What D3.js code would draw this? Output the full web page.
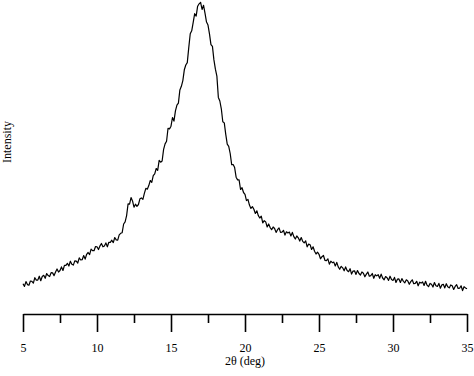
<!DOCTYPE html>
<html>
<head>
<meta charset="utf-8">
<script src="https://cdn.jsdelivr.net/npm/d3@7"></script>
<style>
  html, body { margin: 0; padding: 0; background: #fff; }
  svg text { font-family: "Liberation Serif", "DejaVu Serif", serif; fill: #000; }
</style>
</head>
<body>
<div id="chart"></div>
<script>
//##### XRD pattern #####

// 2theta start / step of the scan (deg)
var startAngle = 5,
  stepAngle = 0.1;

// intensity, one row per degree (5.0 ... 35.0)
var intensity = [
  7.1, 6.2, 7.8, 6.8, 6.6, 8.0, 7.9, 7.3, 9.1, 8.3,
  8.3, 9.6, 8.1, 9.5, 9.9, 8.9, 10.5, 9.8, 9.5, 10.8,
  10.7, 9.8, 11.0, 12.0, 11.0, 11.5, 12.7, 11.5, 13.2, 13.2,
  13.9, 13.0, 14.6, 13.6, 13.3, 14.7, 14.6, 14.0, 15.7, 15.0,
  15.1, 16.5, 15.3, 16.9, 17.5, 16.8, 18.6, 18.1, 18.1, 19.5,
  19.4, 18.5, 19.7, 20.5, 19.4, 19.7, 20.7, 19.4, 20.9, 20.9,
  21.6, 20.8, 22.5, 21.7, 21.6, 23.4, 23.9, 24.1, 27.0, 27.7,
  29.8, 33.7, 33.6, 35.8, 34.7, 32.6, 33.6, 32.9, 33.5, 35.4,
  35.7, 35.2, 37.2, 38.9, 38.6, 39.8, 41.5, 40.9, 43.1, 43.7,
  45.5, 44.9, 48.2, 47.6, 48.0, 51.9, 53.7, 54.6, 58.9, 58.7,
  59.6, 62.5, 61.3, 64.7, 66.6, 67.3, 71.7, 72.9, 74.8, 78.4,
  80.0, 80.8, 85.8, 90.4, 91.4, 94.2, 97.1, 96.3, 99.6, 100.4,
  100.9, 98.5, 99.9, 97.2, 94.3, 93.3, 90.4, 86.8, 86.2, 81.7,
  78.6, 76.3, 69.2, 68.0, 65.4, 61.1, 60.7, 56.9, 53.6, 52.9,
  50.5, 46.8, 46.8, 45.8, 42.6, 41.7, 41.7, 38.5, 39.1, 37.5,
  36.9, 34.8, 35.2, 33.3, 32.2, 32.8, 31.9, 30.5, 31.4, 29.8,
  29.0, 29.6, 27.4, 28.1, 27.7, 26.0, 27.0, 25.8, 25.1, 26.0,
  25.5, 24.2, 25.1, 25.7, 24.2, 24.3, 24.9, 23.3, 24.4, 24.0,
  24.3, 23.0, 24.2, 22.8, 22.0, 23.0, 22.4, 21.3, 22.5, 21.2,
  20.7, 21.4, 19.4, 20.3, 20.1, 18.5, 19.4, 17.9, 17.0, 17.6,
  16.9, 15.4, 16.1, 16.5, 14.9, 14.8, 15.4, 13.6, 14.6, 14.1,
  14.3, 13.0, 14.2, 12.7, 11.9, 12.9, 12.4, 11.4, 12.7, 11.5,
  11.1, 12.1, 10.3, 11.3, 11.4, 10.2, 11.5, 10.5, 10.0, 11.0,
  10.6, 9.4, 10.3, 11.0, 9.6, 9.8, 10.5, 8.9, 10.1, 9.7,
  10.1, 8.9, 10.3, 9.0, 8.4, 9.5, 9.1, 8.2, 9.6, 8.5,
  8.2, 9.2, 7.5, 8.6, 8.7, 7.5, 8.8, 7.9, 7.4, 8.4,
  8.0, 6.9, 7.8, 8.4, 7.1, 7.2, 7.9, 6.4, 7.6, 7.3,
  7.7, 6.5, 7.9, 6.6, 6.1, 7.2, 6.9, 6.0, 7.5, 6.4,
  6.2, 7.2, 5.6, 6.7, 6.9, 5.7, 7.1, 6.1, 5.7, 6.7,
  6.4, 5.2, 6.2, 6.8, 5.5, 5.6, 6.4, 4.8, 6.1, 5.7,
  5.4
];

var majorTicks = [5, 10, 15, 20, 25, 30, 35];
var minorTicks = [7.5, 12.5, 17.5, 22.5, 27.5, 32.5];
var xTitle = "2\u03b8 (deg)",
  yTitle = "Intensity";

var width = 474,
  height = 376,
  axisY = 314;

var theData = intensity.map(function(v, i) {
  return { angle: startAngle + i * stepAngle, value: v };
});

var x = d3.scaleLinear().domain([5, 35]).range([23, 467]);
var y = d3.scaleLinear().domain([0, 100]).range([305, 5]);

var svg = d3
  .select("#chart")
  .append("svg")
  .attr("width", width)
  .attr("height", height);

//pattern
svg
  .append("path")
  .datum(theData)
  .attr("fill", "none")
  .attr("stroke", "#000")
  .attr("stroke-width", 1.2)
  .attr("stroke-linejoin", "round")
  .attr(
    "d",
    d3
      .line()
      .x(function(d) { return x(d.angle); })
      .y(function(d) { return y(d.value); })
  );

//minor ticks
var minorAxis = svg
  .append("g")
  .attr("transform", "translate(0," + axisY + ")")
  .call(
    d3.axisBottom(x)
      .tickValues(minorTicks)
      .tickSize(9)
      .tickSizeOuter(0)
      .tickFormat("")
  );
minorAxis.select(".domain").remove();

//major ticks + labels
var majorAxis = svg
  .append("g")
  .attr("transform", "translate(0," + axisY + ")")
  .call(
    d3.axisBottom(x)
      .tickValues(majorTicks)
      .tickSize(18)
      .tickSizeOuter(0)
      .tickPadding(11)
      .tickFormat(d3.format("d"))
  );

svg.selectAll(".tick line, .domain")
  .attr("stroke", "#000")
  .attr("stroke-width", 1.6);
majorAxis.selectAll("text")
  .attr("font-size", 12)
  .style("font-family", "'Liberation Serif', serif");

//titles
svg
  .append("text")
  .attr("x", 245)
  .attr("y", 365)
  .attr("text-anchor", "middle")
  .attr("font-size", 12)
  .text(xTitle);

svg
  .append("text")
  .attr("transform", "translate(11,142) rotate(-90)")
  .attr("text-anchor", "middle")
  .attr("font-size", 12)
  .text(yTitle);
</script>
</body>
</html>
